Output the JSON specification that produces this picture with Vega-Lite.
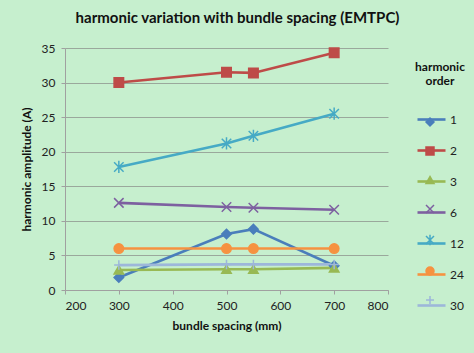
{
  "$schema": "https://vega.github.io/schema/vega-lite/v6.json",
  "autosize": "none",
  "width": 323,
  "height": 242,
  "padding": {"left": 65, "top": 48, "right": 86, "bottom": 63},
  "background": "#c6efce",
  "config": {
    "font": "Lato",
    "view": {"stroke": null},
    "axis": {"labelFont": "Lato", "titleFont": "Lato", "labelColor": "#222", "titleColor": "#111", "labelFontSize": 12, "titleFontSize": 12, "titleFontWeight": "bold"}
  },
  "title": {"text": "harmonic variation with bundle spacing (EMTPC)", "fontSize": 15, "font": "Lato", "fontWeight": "bold", "color": "#111", "dx": 11, "offset": 16},
  "data": {"values": [
    {"spacing": 300, "amp": 1.8, "order": "1"},
    {"spacing": 500, "amp": 8.1, "order": "1"},
    {"spacing": 550, "amp": 8.8, "order": "1"},
    {"spacing": 700, "amp": 3.5, "order": "1"},
    {"spacing": 300, "amp": 30.0, "order": "2"},
    {"spacing": 500, "amp": 31.5, "order": "2"},
    {"spacing": 550, "amp": 31.4, "order": "2"},
    {"spacing": 700, "amp": 34.3, "order": "2"},
    {"spacing": 300, "amp": 2.9, "order": "3"},
    {"spacing": 500, "amp": 3.0, "order": "3"},
    {"spacing": 550, "amp": 3.0, "order": "3"},
    {"spacing": 700, "amp": 3.2, "order": "3"},
    {"spacing": 300, "amp": 12.6, "order": "6"},
    {"spacing": 500, "amp": 12.0, "order": "6"},
    {"spacing": 550, "amp": 11.9, "order": "6"},
    {"spacing": 700, "amp": 11.6, "order": "6"},
    {"spacing": 300, "amp": 17.8, "order": "12"},
    {"spacing": 500, "amp": 21.2, "order": "12"},
    {"spacing": 550, "amp": 22.3, "order": "12"},
    {"spacing": 700, "amp": 25.5, "order": "12"},
    {"spacing": 300, "amp": 6.0, "order": "24"},
    {"spacing": 500, "amp": 6.0, "order": "24"},
    {"spacing": 550, "amp": 6.0, "order": "24"},
    {"spacing": 700, "amp": 6.0, "order": "24"},
    {"spacing": 300, "amp": 3.6, "order": "30"},
    {"spacing": 500, "amp": 3.7, "order": "30"},
    {"spacing": 550, "amp": 3.7, "order": "30"},
    {"spacing": 700, "amp": 3.7, "order": "30"}
  ]},
  "encoding": {
    "x": {"field": "spacing", "type": "quantitative", "scale": {"domain": [200, 800], "nice": false, "zero": false},
      "axis": {"title": "bundle spacing (mm)", "values": [200, 300, 400, 500, 600, 700, 800], "grid": false, "domainColor": "#a0a0a0", "tickColor": "#a0a0a0", "tickSize": 4, "labelPadding": 6, "titlePadding": 9}},
    "y": {"field": "amp", "type": "quantitative", "scale": {"domain": [0, 35], "nice": false},
      "axis": {"title": "harmonic amplitude (A)", "values": [0, 5, 10, 15, 20, 25, 30, 35], "grid": true, "gridColor": "#9aa89c", "domainColor": "#a0a0a0", "tickColor": "#a0a0a0", "tickSize": 4, "labelPadding": 6, "titlePadding": 8}}
  },
  "layer": [
    {
      "mark": {"type": "line", "strokeWidth": 2.6},
      "encoding": {
        "color": {"field": "order", "type": "nominal", "sort": ["1", "2", "3", "6", "12", "24", "30"],
          "scale": {"range": ["#4a7ebb", "#be4b48", "#98b954", "#7d60a0", "#46aac5", "#f69240", "#9db7da"]},
          "legend": {"title": ["harmonic", "order"], "orient": "none", "legendX": 350, "legendY": 14, "titleAlign": "center", "titleAnchor": "middle", "titleFontSize": 12, "titleFont": "Lato", "titleColor": "#111", "titlePadding": 16, "labelFontSize": 12, "labelFont": "Lato", "labelColor": "#222", "symbolType": "stroke", "symbolSize": 784, "symbolStrokeWidth": 2.6, "rowPadding": 9, "labelOffset": 3}
        },
        "detail": {"field": "order"}
      }
    },
    {
      "mark": {"type": "point", "filled": true, "opacity": 1, "strokeWidth": 1.5},
      "encoding": {
        "fill": {"field": "order", "type": "nominal",
          "scale": {"domain": ["1", "2", "3", "6", "12", "24", "30"], "range": ["#4a7ebb", "#be4b48", "#98b954", "#7d60a0", "#46aac5", "#f69240", "#9db7da"]},
          "legend": {"title": ["harmonic", "order"], "orient": "none", "legendX": 348, "legendY": 26, "titleAlign": "center", "titleAnchor": "middle", "titleFontSize": 12, "titleFont": "Lato", "titleColor": "transparent", "titlePadding": 16, "labelFontSize": 12, "labelFont": "Lato", "labelColor": "transparent", "symbolSize": 64, "symbolStrokeWidth": 1.5, "rowPadding": 15, "labelOffset": 3}},
        "stroke": {"field": "order", "type": "nominal",
          "scale": {"domain": ["1", "2", "3", "6", "12", "24", "30"], "range": ["#4a7ebb", "#be4b48", "#98b954", "#7d60a0", "#46aac5", "#f69240", "#9db7da"]},
          "legend": {"title": ["harmonic", "order"], "orient": "none", "legendX": 348, "legendY": 26, "titleAlign": "center", "titleAnchor": "middle", "titleFontSize": 12, "titleFont": "Lato", "titleColor": "transparent", "titlePadding": 16, "labelFontSize": 12, "labelFont": "Lato", "labelColor": "transparent", "symbolSize": 64, "symbolStrokeWidth": 1.5, "rowPadding": 15, "labelOffset": 3}},
        "shape": {"field": "order", "type": "nominal",
          "scale": {"domain": ["1", "2", "3", "6", "12", "24", "30"], "range": ["diamond", "square", "triangle-up", "M-1,-1L1,1M-1,1L1,-1", "M-1,-1L1,1M-1,1L1,-1M0,-1.3V1.3", "circle", "M0,-1V1M-1,0H1"]},
          "legend": {"title": ["harmonic", "order"], "orient": "none", "legendX": 348, "legendY": 26, "titleAlign": "center", "titleAnchor": "middle", "titleFontSize": 12, "titleFont": "Lato", "titleColor": "transparent", "titlePadding": 16, "labelFontSize": 12, "labelFont": "Lato", "labelColor": "transparent", "symbolSize": 64, "symbolStrokeWidth": 1.5, "rowPadding": 15, "labelOffset": 3}},
        "size": {"value": 90}
      }
    }
  ]
}
